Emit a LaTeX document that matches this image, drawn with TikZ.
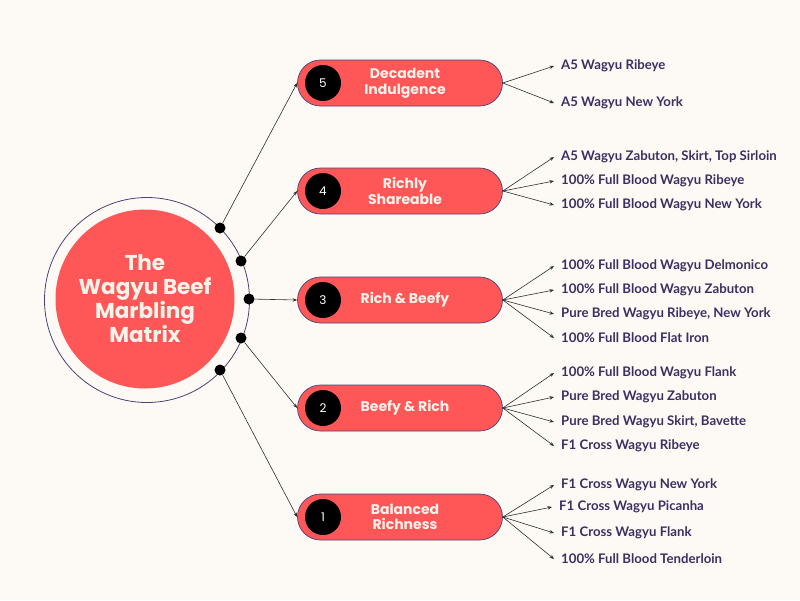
\documentclass[tikz,border=0pt]{standalone}
\usepackage{fontspec}
\setmainfont{Lato}
\newfontfamily\headfont{Poppins}
\usetikzlibrary{arrows.meta}
\definecolor{bgc}{HTML}{FDFAF5}
\definecolor{redc}{HTML}{FF5757}
\definecolor{navy}{HTML}{3C3063}
\definecolor{ringc}{HTML}{4A4275}
\definecolor{linec}{HTML}{2E2E2E}
\definecolor{whitec}{HTML}{F7F2EA}
\tikzset{
  dotnode/.style={circle, fill=black, inner sep=0pt, minimum size=11pt},
  pill/.style={rectangle, rounded corners=23pt, fill=redc, draw=ringc, line width=0.7pt, minimum width=205pt, minimum height=46pt, inner sep=0pt},
  numc/.style={circle, fill=black, inner sep=0pt, minimum size=36pt, text=white, font=\headfont\fontsize{12}{12}\selectfont},
  pilltext/.style={text=whitec, align=center, font=\headfont\bfseries\fontsize{14}{15.5}\selectfont},
  item/.style={anchor=west, inner xsep=7pt, inner ysep=0pt, text=navy, font=\bfseries\fontsize{13.2}{15}\selectfont},
  conn/.style={draw=linec, line width=0.6pt, -{Stealth[length=4.5pt,width=3.5pt]}},
}
\begin{document}
\begin{tikzpicture}[x=1pt,y=-1pt]
\fill[bgc] (0,0) rectangle (800,600);
\useasboundingbox (0,0) rectangle (800,600);
% centre
\node[circle, draw=ringc, line width=0.8pt, fill=bgc, minimum size=205pt, inner sep=0pt] (outer) at (147,300) {};
\node[circle, fill=redc, minimum size=179pt, inner sep=0pt, text=whitec, align=center,
  font=\headfont\bfseries\fontsize{21.5}{24}\selectfont] (inner) at (145,299) {The\\Wagyu Beef\\Marbling\\Matrix};
% pills
\node[pill] (p5) at (400,83) {};
\node[pill] (p4) at (400,191) {};
\node[pill] (p3) at (400,300) {};
\node[pill] (p2) at (400,408) {};
\node[pill] (p1) at (400,517) {};
\node[numc] (n5) at (323,83) {5};
\node[numc] (n4) at (323,191) {4};
\node[numc] (n3) at (323,300) {3};
\node[numc] (n2) at (323,408) {2};
\node[numc] (n1) at (323,517) {1};
\node[pilltext] (t5) at (405,83) {Decadent\\Indulgence};
\node[pilltext] (t4) at (405,191) {Richly\\Shareable};
\node[pilltext] (t3) at (405,300) {Rich \& Beefy};
\node[pilltext] (t2) at (405,408) {Beefy \& Rich};
\node[pilltext] (t1) at (405,517) {Balanced\\Richness};
% dots
\node[dotnode] (d5) at (220,228) {};
\node[dotnode] (d4) at (241,261) {};
\node[dotnode] (d3) at (249,299) {};
\node[dotnode] (d2) at (241,338) {};
\node[dotnode] (d1) at (220,370) {};
\draw[conn] (d5) -- (p5.west);
\draw[conn] (d4) -- (p4.west);
\draw[conn] (d3) -- (p3.west);
\draw[conn] (d2) -- (p2.west);
\draw[conn] (d1) -- (p1.west);
% items
\node[item] (i51) at (554,66) {A5 Wagyu Ribeye};
\node[item] (i52) at (554,103) {A5 Wagyu New York};
\node[item] (i41) at (554,157) {A5 Wagyu Zabuton, Skirt, Top Sirloin};
\node[item] (i42) at (554,181) {100\% Full Blood Wagyu Ribeye};
\node[item] (i43) at (554,205) {100\% Full Blood Wagyu New York};
\node[item] (i31) at (554,266) {100\% Full Blood Wagyu Delmonico};
\node[item] (i32) at (554,290) {100\% Full Blood Wagyu Zabuton};
\node[item] (i33) at (554,314) {Pure Bred Wagyu Ribeye, New York};
\node[item] (i34) at (554,338) {100\% Full Blood Flat Iron};
\node[item] (i21) at (554,373) {100\% Full Blood Wagyu Flank};
\node[item] (i22) at (554,397) {Pure Bred Wagyu Zabuton};
\node[item] (i23) at (554,422) {Pure Bred Wagyu Skirt, Bavette};
\node[item] (i24) at (554,446) {F1 Cross Wagyu Ribeye};
\node[item] (i11) at (554,485) {F1 Cross Wagyu New York};
\node[item] (i12) at (552,507) {F1 Cross Wagyu Picanha};
\node[item] (i13) at (554,533) {F1 Cross Wagyu Flank};
\node[item] (i14) at (554,559) {100\% Full Blood Tenderloin};
\foreach \p/\i in {p5/i51,p5/i52,p4/i41,p4/i42,p4/i43,p3/i31,p3/i32,p3/i33,p3/i34,p2/i21,p2/i22,p2/i23,p2/i24,p1/i11,p1/i12,p1/i13,p1/i14}
  \draw[conn] (\p.east) -- (\i.west);
\end{tikzpicture}
\end{document}
